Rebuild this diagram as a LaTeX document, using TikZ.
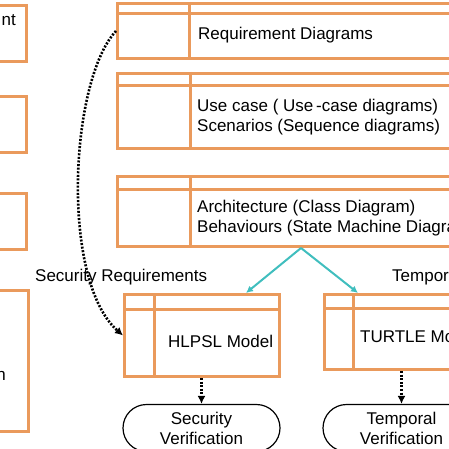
\documentclass[tikz,border=0pt]{standalone}
\usepackage{fontspec}
\setmainfont{Liberation Sans}
\usetikzlibrary{arrows,arrows.meta,shapes.misc}
\definecolor{boxorange}{RGB}{234,154,92}
\definecolor{flowteal}{RGB}{64,190,190}
\tikzstyle{frame}=[draw=boxorange,line width=3pt,rectangle,inner sep=0pt,anchor=north west]
\tikzstyle{frameline}=[draw=boxorange,line width=3pt]
\tikzstyle{txt}=[inner sep=0pt,anchor=base west,font=\fontsize{17}{20}\selectfont]
\tikzstyle{verif}=[draw,line width=1.2pt,rounded rectangle,inner sep=0pt,minimum width=157pt,minimum height=47pt,align=center,font=\fontsize{17}{20}\selectfont]
\tikzstyle{dotarrow}=[draw,line width=2.6pt,dash pattern=on 2pt off 1.6pt,-{Latex[length=8pt,width=8pt]}]
\tikzstyle{flow}=[draw=flowteal,line width=2pt,-{Latex[length=7pt,width=7pt]}]

\begin{document}
\begin{tikzpicture}[x=1pt,y=-1pt]
    \useasboundingbox (0,0) rectangle (449,449);
    % First we draw the boxes cut off on the left
    \foreach \name/\ytop/\boxh/\boxw in {l1/4/56/85, l2/95/56/85, l3/192/56/85, l4/289/141/87}
        \node[frame,minimum width=\boxw pt,minimum height=\boxh pt] (\name) at (-60,\ytop) {};
    \node[txt,anchor=base east] (l1txt) at (16,26) {nt};
    \node[txt,anchor=base east] (l4txt) at (6,380) {n};
    % Then the model boxes
    \node[frame,minimum width=364pt,minimum height=55pt] (req) at (116,2) {};
    \node[frame,minimum width=364pt,minimum height=75pt] (ucase) at (116,72) {};
    \node[frame,minimum width=364pt,minimum height=70pt] (arch) at (116,175) {};
    \node[frame,minimum width=155pt,minimum height=82pt] (hlpsl) at (123,293) {};
    \node[frame,minimum width=157pt,minimum height=75pt] (turtle) at (323,293) {};
    % Header line and divider of each box
    \foreach \name/\hd/\dv in {req/12/73, ucase/14/74, arch/14/74, hlpsl/16/31, turtle/15/30}
    {
        \path[frameline] ([yshift=-\hd pt]\name.north west) -- ([yshift=-\hd pt]\name.north east);
        \path[frameline] ([xshift=\dv pt]\name.north west) -- ([xshift=\dv pt]\name.south west);
    }
    % Texts
    \node[txt] (reqtxt) at (198,40) {Requirement Diagrams};
    \node[txt] (ucasetxt) at (197,112) {Use case ( Use\,-case diagrams)};
    \node[txt] (scentxt) at (197,132) {Scenarios (Sequence diagrams)};
    \node[txt] (archtxt) at (197,212) {Architecture (Class Diagram)};
    \node[txt] (behtxt) at (197,232) {Behaviours (State Machine Diagrams)};
    \node[txt] (secreq) at (35,281) {Security Requirements};
    \node[txt] (tempreq) at (392,281) {Temporal Requirements};
    \node[txt] (hlpsltxt) at (168,347) {HLPSL Model};
    \node[txt] (turtletxt) at (360,342) {TURTLE Model};
    % Verification terminals
    \node[verif] (secver) at (201.5,428) {Security\\Verification};
    \node[verif] (tempver) at (401.5,428) {Temporal\\Verification};
    % Connect boxes
    \coordinate (fork) at (301,248);
    \path[flow] (fork) -- ([xshift=-35pt]hlpsl.north east);
    \path[flow] (fork) -- ([xshift=35pt]turtle.north west);
    \path[dotarrow] (req.west) .. controls (70,80) and (60,280) .. (hlpsl.west);
    \path[dotarrow] (secver.north |- hlpsl.south) -- (secver.north);
    \path[dotarrow] (tempver.north |- turtle.south) -- (tempver.north);
\end{tikzpicture}
\end{document}
